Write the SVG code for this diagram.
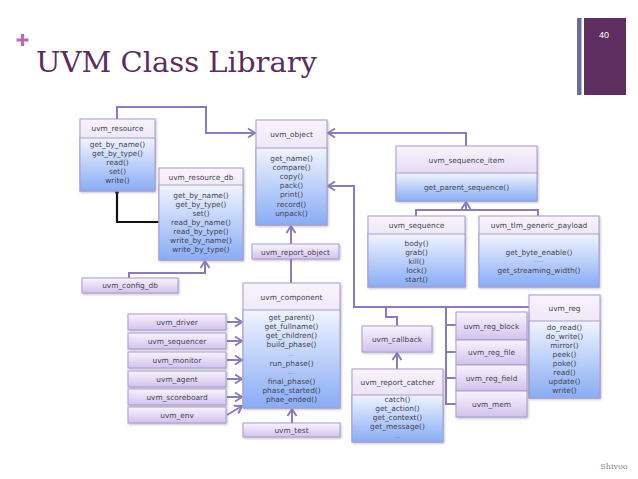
<svg xmlns="http://www.w3.org/2000/svg" width="638" height="479" viewBox="0 0 638 479">
<defs>
<linearGradient id="hg" x1="0" y1="0" x2="0" y2="1"><stop offset="0" stop-color="#f8f4fc"/><stop offset="1" stop-color="#d2c2ed"/></linearGradient>
<linearGradient id="bg" x1="0" y1="0" x2="0" y2="1"><stop offset="0" stop-color="#f0f4fe"/><stop offset="1" stop-color="#88acf5"/></linearGradient>
<filter id="sh" x="-10%" y="-10%" width="130%" height="130%"><feDropShadow dx="1" dy="1.2" stdDeviation="0.8" flood-color="#777" flood-opacity="0.45"/></filter>
<marker id="ar" markerUnits="userSpaceOnUse" markerWidth="12" markerHeight="12" refX="9" refY="6" orient="auto"><path d="M2,1.5 L9,6 L2,10.5" fill="none" stroke="#8a7bbd" stroke-width="2"/></marker>
<style>
.h{fill:url(#hg);stroke:#a99bd2;stroke-width:1;filter:url(#sh)}
.b{fill:url(#bg);stroke:#a99bd2;stroke-width:1}
.t{font-family:"DejaVu Sans",sans-serif;font-size:7.4px;fill:#454552;text-anchor:middle}
.d{font-family:"DejaVu Sans",sans-serif;font-size:6px;fill:#7c84a0;text-anchor:middle}
.c{fill:none;stroke:#8a7bbd;stroke-width:2}
</style>
</defs>
<rect width="638" height="479" fill="#ffffff"/>
<!-- title -->
<g id="title">
<path d="M22.5,34 V46 M16.5,40 H28.5" stroke="#b36bb8" stroke-width="3.2"/>
<text x="36" y="72" font-family="DejaVu Serif,serif" font-size="27" fill="#5b2c5e" textLength="281" lengthAdjust="spacingAndGlyphs">UVM Class Library</text>
<rect x="577" y="18" width="4.5" height="77" fill="#6c6c9c"/>
<rect x="584" y="18" width="42" height="77" fill="#5e2e60"/>
<text x="604" y="38" font-family="Liberation Sans,sans-serif" font-size="9" fill="#ffffff" text-anchor="middle">40</text>
<text x="614" y="469" font-family="DejaVu Serif,serif" font-size="8" fill="#888888" text-anchor="middle">Shivoo</text>
</g>
<!-- connectors -->
<g id="connectors">
<path class="c" d="M117,119 V107 H206 V133 H255" marker-end="url(#ar)"/>
<path d="M159,222 H117 V193" fill="none" stroke="#111" stroke-width="2.2"/>
<circle cx="117" cy="192" r="2" fill="#111"/>
<path class="c" d="M129,278 V273 H205 V261" marker-end="url(#ar)"/>
<path class="c" d="M466,146 V133 H328" marker-end="url(#ar)"/>
<path class="c" d="M416,216 V210 H538 V216"/>
<path class="c" d="M466,210 V202" marker-end="url(#ar)"/>
<path class="c" d="M529,307 H354 V186 H328" marker-end="url(#ar)"/>
<path class="c" d="M446,307 V404 H456 M446,325 H456 M446,352 H456 M446,378 H456"/>
<path class="c" d="M397,326 V317 H386 V307"/>
<path class="c" d="M397,369 V353" marker-end="url(#ar)"/>
<path class="c" d="M291,244 V226" marker-end="url(#ar)"/>
<path class="c" d="M291,283 V259"/>
<path class="c" d="M292,423 V409" marker-end="url(#ar)"/>
<path class="c" d="M227,322 H242" marker-end="url(#ar)"/>
<path class="c" d="M227,341 H242" marker-end="url(#ar)"/>
<path class="c" d="M227,360 H242" marker-end="url(#ar)"/>
<path class="c" d="M227,379 H242" marker-end="url(#ar)"/>
<path class="c" d="M227,397 H242" marker-end="url(#ar)"/>
<path class="c" d="M227,415 L242,406" marker-end="url(#ar)"/>
</g>
<!-- nodes -->
<g id="uvm_resource">
<rect class="h" x="80" y="119" width="75" height="72"/>
<rect class="b" x="80" y="138" width="75" height="53"/>
<text class="t" x="117.5" y="131">uvm_resource</text>
<text class="t" x="117.5" y="146.5">get_by_name()</text>
<text class="t" x="117.5" y="155.5">get_by_type()</text>
<text class="t" x="117.5" y="164.5">read()</text>
<text class="t" x="117.5" y="173.5">set()</text>
<text class="t" x="117.5" y="182.5">write()</text>
</g>
<g id="uvm_resource_db">
<rect class="h" x="159" y="168" width="84" height="92"/>
<rect class="b" x="159" y="185" width="84" height="75"/>
<text class="t" x="201" y="179.5">uvm_resource_db</text>
<text class="t" x="201" y="197.5">get_by_name()</text>
<text class="t" x="201" y="206.5">get_by_type()</text>
<text class="t" x="201" y="215.5">set()</text>
<text class="t" x="201" y="224.5">read_by_name()</text>
<text class="t" x="201" y="233.5">read_by_type()</text>
<text class="t" x="201" y="242.5">write_by_name()</text>
<text class="t" x="201" y="251.5">write_by_type()</text>
</g>
<g id="uvm_config_db">
<rect class="h" x="82" y="278" width="96" height="15"/>
<text class="t" x="130" y="288.3">uvm_config_db</text>
</g>
<g id="uvm_object">
<rect class="h" x="256" y="120" width="71" height="105"/>
<rect class="b" x="256" y="148" width="71" height="77"/>
<text class="t" x="291.5" y="136.5">uvm_object</text>
<text class="t" x="291.5" y="160.5">get_name()</text>
<text class="t" x="291.5" y="169.7">compare()</text>
<text class="t" x="291.5" y="178.9">copy()</text>
<text class="t" x="291.5" y="188.1">pack()</text>
<text class="t" x="291.5" y="197.3">print()</text>
<text class="t" x="291.5" y="206.5">record()</text>
<text class="t" x="291.5" y="215.7">unpack()</text>
</g>
<g id="uvm_report_object">
<rect class="h" x="252" y="244" width="87" height="15"/>
<text class="t" x="295.5" y="254.5">uvm_report_object</text>
</g>
<g id="uvm_component">
<rect class="h" x="243" y="283" width="97" height="125"/>
<rect class="b" x="243" y="310" width="97" height="98"/>
<text class="t" x="291.5" y="299.5">uvm_component</text>
<text class="t" x="291.5" y="319.5">get_parent()</text>
<text class="t" x="291.5" y="328.7">get_fullname()</text>
<text class="t" x="291.5" y="337.9">get_children()</text>
<text class="t" x="291.5" y="347.1">build_phase()</text>
<text class="d" x="291.5" y="355.5">...</text>
<text class="t" x="291.5" y="365.5">run_phase()</text>
<text class="d" x="291.5" y="374">....</text>
<text class="t" x="291.5" y="383.9">final_phase()</text>
<text class="t" x="291.5" y="393.1">phase_started()</text>
<text class="t" x="291.5" y="402.3">phae_ended()</text>
</g>
<g id="uvm_test">
<rect class="h" x="243" y="423" width="97" height="14"/>
<text class="t" x="291.5" y="432.7">uvm_test</text>
</g>
<g id="uvm_driver"><rect class="h" x="128" y="314" width="98" height="16"/><text class="t" x="177" y="324.7">uvm_driver</text></g>
<g id="uvm_sequencer"><rect class="h" x="128" y="333" width="98" height="16"/><text class="t" x="177" y="343.7">uvm_sequencer</text></g>
<g id="uvm_monitor"><rect class="h" x="128" y="352" width="98" height="16"/><text class="t" x="177" y="362.7">uvm_monitor</text></g>
<g id="uvm_agent"><rect class="h" x="128" y="371" width="98" height="16"/><text class="t" x="177" y="381.7">uvm_agent</text></g>
<g id="uvm_scoreboard"><rect class="h" x="128" y="389" width="98" height="16"/><text class="t" x="177" y="399.7">uvm_scoreboard</text></g>
<g id="uvm_env"><rect class="h" x="128" y="407" width="98" height="16"/><text class="t" x="177" y="417.7">uvm_env</text></g>
<g id="uvm_sequence_item">
<rect class="h" x="396" y="146" width="141" height="55"/>
<rect class="b" x="396" y="173" width="141" height="28"/>
<text class="t" x="466.5" y="162.5">uvm_sequence_item</text>
<text class="t" x="466.5" y="189.5">get_parent_sequence()</text>
</g>
<g id="uvm_sequence">
<rect class="h" x="368" y="216" width="97" height="71"/>
<rect class="b" x="368" y="234" width="97" height="53"/>
<text class="t" x="416.5" y="227.5">uvm_sequence</text>
<text class="t" x="416.5" y="245.5">body()</text>
<text class="t" x="416.5" y="254.5">grab()</text>
<text class="t" x="416.5" y="263.5">kill()</text>
<text class="t" x="416.5" y="272.5">lock()</text>
<text class="t" x="416.5" y="281.5">start()</text>
</g>
<g id="uvm_tlm_generic_payload">
<rect class="h" x="479" y="216" width="120" height="71"/>
<rect class="b" x="479" y="234" width="120" height="53"/>
<text class="t" x="539" y="227.5">uvm_tlm_generic_payload</text>
<text class="t" x="539" y="254.5">get_byte_enable()</text>
<text class="d" x="539" y="262">.....</text>
<text class="t" x="539" y="272.5">get_streaming_width()</text>
</g>
<g id="uvm_callback">
<rect class="h" x="362" y="326" width="70" height="26"/>
<text class="t" x="397" y="341.5">uvm_callback</text>
</g>
<g id="uvm_report_catcher">
<rect class="h" x="352" y="369" width="91" height="73"/>
<rect class="b" x="352" y="395" width="91" height="47"/>
<text class="t" x="397.5" y="384.5">uvm_report_catcher</text>
<text class="t" x="397.5" y="401.5">catch()</text>
<text class="t" x="397.5" y="410.5">get_action()</text>
<text class="t" x="397.5" y="419.5">get_context()</text>
<text class="t" x="397.5" y="428.7">get_message()</text>
<text class="d" x="397.5" y="438">...</text>
</g>
<g id="uvm_reg">
<rect class="h" x="529" y="295" width="71" height="103"/>
<rect class="b" x="529" y="321" width="71" height="77"/>
<text class="t" x="564.5" y="310.5">uvm_reg</text>
<text class="t" x="564.5" y="329.5">do_read()</text>
<text class="t" x="564.5" y="338.6">do_write()</text>
<text class="t" x="564.5" y="347.7">mirror()</text>
<text class="t" x="564.5" y="356.8">peek()</text>
<text class="t" x="564.5" y="365.9">poke()</text>
<text class="t" x="564.5" y="375">read()</text>
<text class="t" x="564.5" y="384.1">update()</text>
<text class="t" x="564.5" y="393.2">write()</text>
</g>
<g id="uvm_reg_block"><rect class="h" x="456" y="312" width="71" height="28"/><text class="t" x="491.5" y="328.7">uvm_reg_block</text></g>
<g id="uvm_reg_file"><rect class="h" x="456" y="340" width="71" height="25"/><text class="t" x="491.5" y="355">uvm_reg_file</text></g>
<g id="uvm_reg_field"><rect class="h" x="456" y="365" width="71" height="26"/><text class="t" x="491.5" y="380.7">uvm_reg_field</text></g>
<g id="uvm_mem"><rect class="h" x="456" y="391" width="71" height="26"/><text class="t" x="491.5" y="406.7">uvm_mem</text></g>
</svg>
